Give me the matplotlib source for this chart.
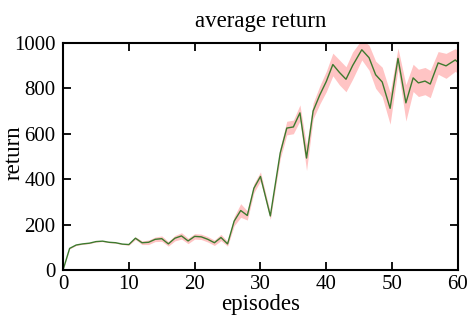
import matplotlib
matplotlib.use("Agg")
import matplotlib.pyplot as plt
import numpy as np

# episode positions and mean return
episodes = [0, 1, 2, 3, 4, 5, 6, 7, 8, 9, 10, 11, 12, 13, 14, 15, 16, 17, 18, 19,
            20, 21, 22, 23, 24, 25, 26, 27, 28, 29, 30, 31.5, 33, 34, 35, 36, 37, 38,
            39, 40, 41, 42, 43, 44, 45.4, 46.5, 47.5, 48.5, 49.7, 50.9, 52.1, 53.2,
            54, 55, 55.8, 57, 58.2, 59.6, 60]
mean_return = [0, 95, 110, 115, 118, 125, 127, 122, 120, 114, 112, 140, 120, 122, 135,
               138, 115, 140, 150, 128, 148, 146, 135, 120, 143, 115, 215, 262, 240, 360,
               412, 238, 515, 625, 630, 692, 493, 700, 770, 830, 905, 870, 840, 900,
               970, 935, 860, 828, 712, 932, 736, 846, 824, 832, 819, 912, 899, 925, 915]
# half-width of the shaded band
spread = [0, 2, 2, 2, 2, 2, 2, 2, 2, 2, 3, 6, 8, 10, 10, 12, 10, 12, 14, 12,
          12, 12, 12, 12, 14, 10, 20, 30, 20, 20, 20, 15, 25, 30, 30, 35, 55, 35,
          40, 45, 50, 55, 55, 60, 45, 55, 60, 65, 70, 45, 80, 60, 60, 60, 60, 50,
          55, 50, 50]

mean = np.array(mean_return)
sd = np.array(spread)

plt.rcParams['font.family'] = ['Liberation Serif', 'DejaVu Serif']

fig = plt.figure(figsize=(4.74, 3.18), dpi=100)
ax = fig.add_axes([0.133, 0.151, 0.833, 0.714])

ax.fill_between(episodes, mean - sd, mean + sd, color='#ffc4c4', linewidth=0)
ax.plot(episodes, mean, color='#3d7a2e', linewidth=1.0)

ax.set_xlim(0, 60)
ax.set_ylim(0, 1000)
ax.set_xticks([0, 10, 20, 30, 40, 50, 60])
ax.set_yticks([0, 200, 400, 600, 800, 1000])
ax.tick_params(direction='in', top=True, right=True, length=6, width=1.3,
               labelsize=15)
ax.tick_params(axis='x', pad=3.5)
ax.tick_params(axis='y', pad=5.5)
for spine in ax.spines.values():
    spine.set_linewidth(1.5)

ax.set_title("average return", fontsize=16.5, pad=11.5)
ax.set_xlabel("episodes", fontsize=16.5, va='top')
ax.set_ylabel("return", fontsize=16.5)
ax.xaxis.set_label_coords(0.5, -0.105)
ax.yaxis.set_label_coords(-0.098, 0.515)

fig.savefig("out.png", dpi=100)
